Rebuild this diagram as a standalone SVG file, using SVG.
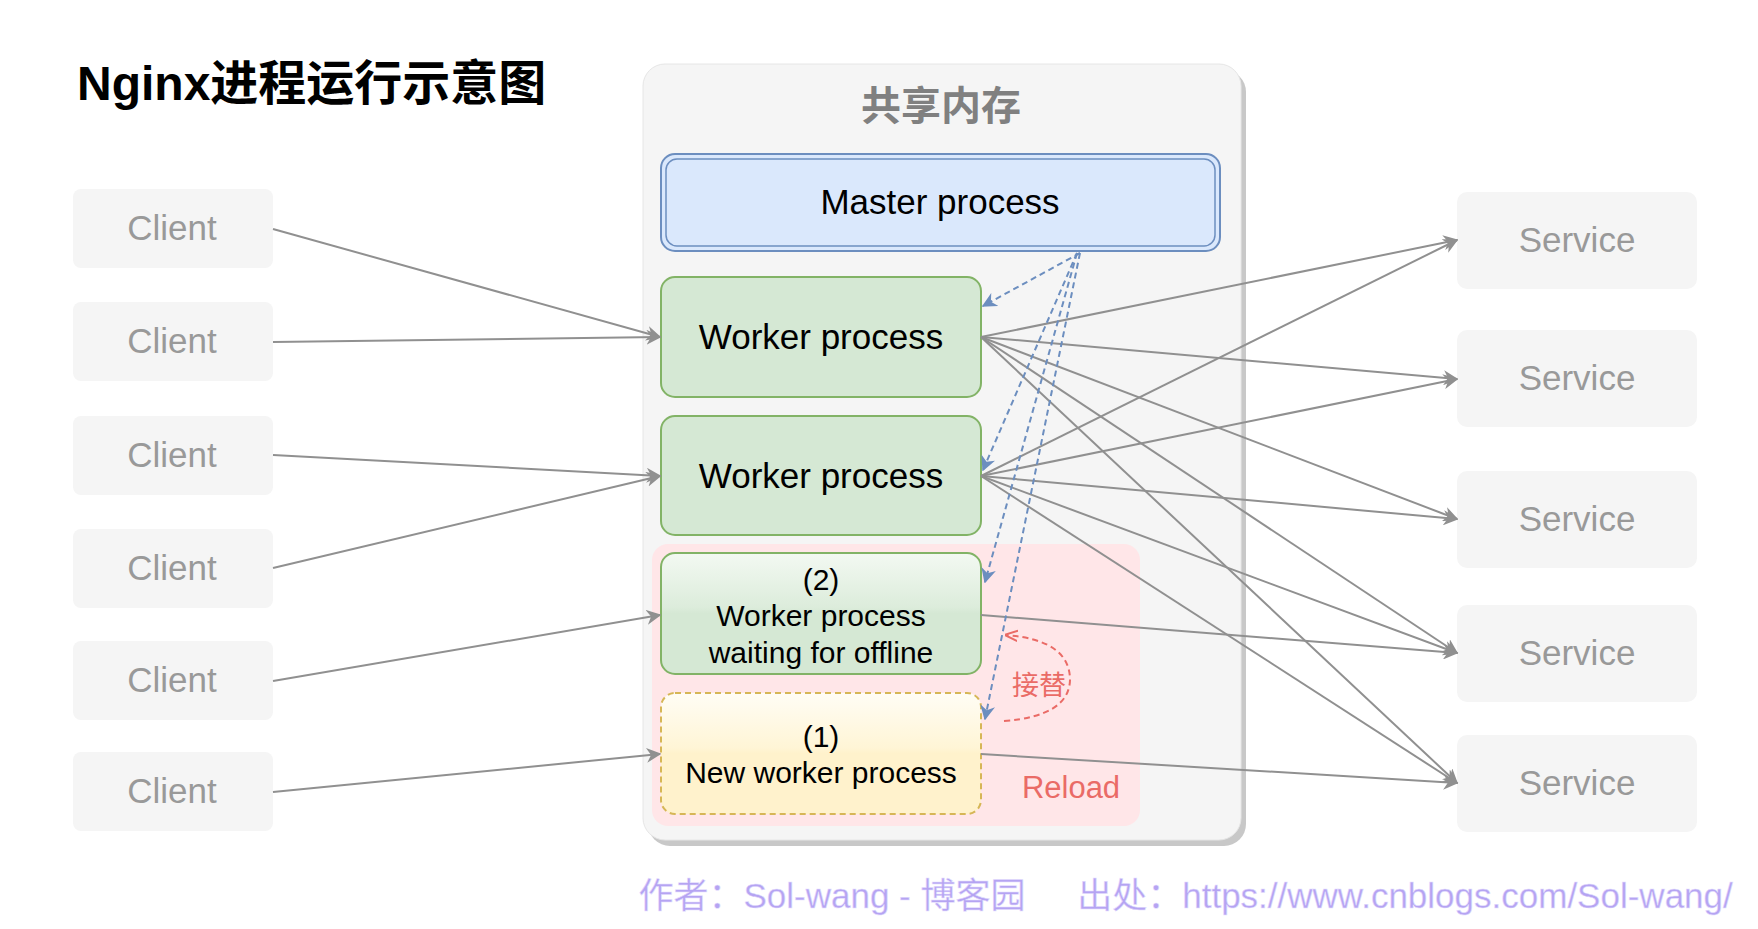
<svg xmlns="http://www.w3.org/2000/svg" width="1758" height="929" viewBox="0 0 1758 929">
<style>
text{font-family:"Liberation Sans","Noto Sans CJK SC",sans-serif;text-anchor:middle}
.cl rect,.sv rect{fill:#f5f5f5}
.cl text,.sv text{fill:#999;font-size:35px}
.wk{fill:#d5e8d4;stroke:#82b366;stroke-width:2}
.bt{font-size:35px;fill:#000}
.st{font-size:30px;fill:#000}
.c line{stroke:#909090;stroke-width:2;marker-end:url(#ga)}
.b line{stroke:#6c8ebf;stroke-width:2;stroke-dasharray:6 4;marker-end:url(#ba)}
</style>
<defs>
<marker id="ga" viewBox="0 0 10 10" refX="9" refY="5" markerWidth="15" markerHeight="15" orient="auto" markerUnits="userSpaceOnUse"><path d="M0,0L10,5L0,10L3,5z" fill="#909090"/></marker>
<marker id="ba" viewBox="0 0 10 10" refX="9" refY="5" markerWidth="15" markerHeight="15" orient="auto" markerUnits="userSpaceOnUse"><path d="M0,0L10,5L0,10L3,5z" fill="#6c8ebf"/></marker>
<marker id="ra" viewBox="0 0 10 10" refX="9" refY="5" markerWidth="13" markerHeight="13" orient="auto" markerUnits="userSpaceOnUse"><path d="M0,1L10,5L0,9" fill="none" stroke="#ea6b66" stroke-width="1.5"/></marker>
<linearGradient id="gg" x1="0" y1="0" x2="0" y2="1"><stop offset="0" stop-color="#f3f9f2"/><stop offset="0.45" stop-color="#dcecdb"/><stop offset="0.5" stop-color="#d5e8d4"/></linearGradient>
<linearGradient id="yg" x1="0" y1="0" x2="0" y2="1"><stop offset="0" stop-color="#fffdf5"/><stop offset="0.45" stop-color="#fff5d6"/><stop offset="0.5" stop-color="#fff2cc"/></linearGradient>
</defs>
<rect width="1758" height="929" fill="#fff"/>
<text x="77" y="100" style="font-size:48px;font-weight:bold;text-anchor:start">Nginx进程运行示意图</text>
<g id="shm">
<rect x="648" y="70" width="598" height="776" rx="22" fill="#c8c8c8"/>
<rect x="643" y="64" width="598" height="776" rx="22" fill="#f5f5f5" stroke="#e6e6e6"/>
<text x="941" y="120" style="font-size:40px;font-weight:bold;fill:#808080">共享内存</text>
</g>
<g id="reload">
<rect x="652" y="544" width="488" height="282" rx="16" fill="#ffe6e8"/>
<text x="1071" y="798" style="font-size:31px;fill:#ea6b66">Reload</text>
</g>
<g id="master">
<rect x="661" y="154" width="559" height="97" rx="14" fill="#dae8fc" stroke="#6c8ebf" stroke-width="2"/>
<rect x="666" y="159" width="549" height="87" rx="11" fill="none" stroke="#6c8ebf" stroke-width="1.5"/>
<text class="bt" x="940" y="214">Master process</text>
</g>
<g id="w1"><rect class="wk" x="661" y="277" width="320" height="120" rx="14"/><text class="bt" x="821" y="349">Worker process</text></g>
<g id="w2"><rect class="wk" x="661" y="416" width="320" height="119" rx="14"/><text class="bt" x="821" y="488">Worker process</text></g>
<g id="w3"><rect x="661" y="553" width="320" height="121" rx="14" fill="url(#gg)" stroke="#82b366" stroke-width="2"/>
<text class="st" x="821" y="590">(2)</text><text class="st" x="821" y="626">Worker process</text><text class="st" x="821" y="663">waiting for offline</text></g>
<g id="w4"><rect x="661" y="693" width="320" height="121" rx="14" fill="url(#yg)" stroke="#d6b656" stroke-width="2" stroke-dasharray="6 4"/>
<text class="st" x="821" y="747">(1)</text><text class="st" x="821" y="783">New worker process</text></g>
<g class="cl">
<g id="c1"><rect x="73" y="189" width="200" height="79" rx="8"/><text x="172" y="240">Client</text></g>
<g id="c2"><rect x="73" y="302" width="200" height="79" rx="8"/><text x="172" y="353">Client</text></g>
<g id="c3"><rect x="73" y="416" width="200" height="79" rx="8"/><text x="172" y="467">Client</text></g>
<g id="c4"><rect x="73" y="529" width="200" height="79" rx="8"/><text x="172" y="580">Client</text></g>
<g id="c5"><rect x="73" y="641" width="200" height="79" rx="8"/><text x="172" y="692">Client</text></g>
<g id="c6"><rect x="73" y="752" width="200" height="79" rx="8"/><text x="172" y="803">Client</text></g>
</g>
<g class="sv">
<g id="s1"><rect x="1457" y="192" width="240" height="97" rx="10"/><text x="1577" y="252">Service</text></g>
<g id="s2"><rect x="1457" y="330" width="240" height="97" rx="10"/><text x="1577" y="390">Service</text></g>
<g id="s3"><rect x="1457" y="471" width="240" height="97" rx="10"/><text x="1577" y="531">Service</text></g>
<g id="s4"><rect x="1457" y="605" width="240" height="97" rx="10"/><text x="1577" y="665">Service</text></g>
<g id="s5"><rect x="1457" y="735" width="240" height="97" rx="10"/><text x="1577" y="795">Service</text></g>
</g>
<g id="connectors">
<g class="c">
<line x1="273" y1="229" x2="660" y2="337"/>
<line x1="273" y1="342" x2="660" y2="337"/>
<line x1="273" y1="455" x2="660" y2="476"/>
<line x1="273" y1="568" x2="660" y2="476"/>
<line x1="273" y1="681" x2="660" y2="615"/>
<line x1="273" y1="792" x2="660" y2="754"/>
<line x1="981" y1="337" x2="1457" y2="240"/>
<line x1="981" y1="337" x2="1457" y2="379"/>
<line x1="981" y1="337" x2="1457" y2="519"/>
<line x1="981" y1="337" x2="1457" y2="653"/>
<line x1="981" y1="337" x2="1457" y2="783"/>
<line x1="981" y1="476" x2="1457" y2="240"/>
<line x1="981" y1="476" x2="1457" y2="379"/>
<line x1="981" y1="476" x2="1457" y2="519"/>
<line x1="981" y1="476" x2="1457" y2="653"/>
<line x1="981" y1="476" x2="1457" y2="783"/>
<line x1="981" y1="615" x2="1457" y2="653"/>
<line x1="981" y1="754" x2="1457" y2="783"/>
</g>
<g class="b">
<line x1="1080" y1="253" x2="983" y2="306"/>
<line x1="1077" y1="253" x2="983" y2="470"/>
<line x1="1077" y1="253" x2="985" y2="582"/>
<line x1="1080" y1="253" x2="985" y2="719"/>
</g>
<path d="M1004,721 Q1069,716 1070,680 Q1070,640 1006,635" fill="none" stroke="#ea6b66" stroke-width="2" stroke-dasharray="6 4" marker-end="url(#ra)"/>
<text x="1039" y="695" style="font-size:27px;fill:#ea6b66">接替</text>
</g>
<g style="font-size:35px;fill:#b5a4f2;stroke:#e6e0ff;stroke-width:0.5">
<text x="832" y="908">作者：Sol-wang - 博客园</text>
<text x="1405" y="908">出处：https://www.cnblogs.com/Sol-wang/</text>
</g>
</svg>
